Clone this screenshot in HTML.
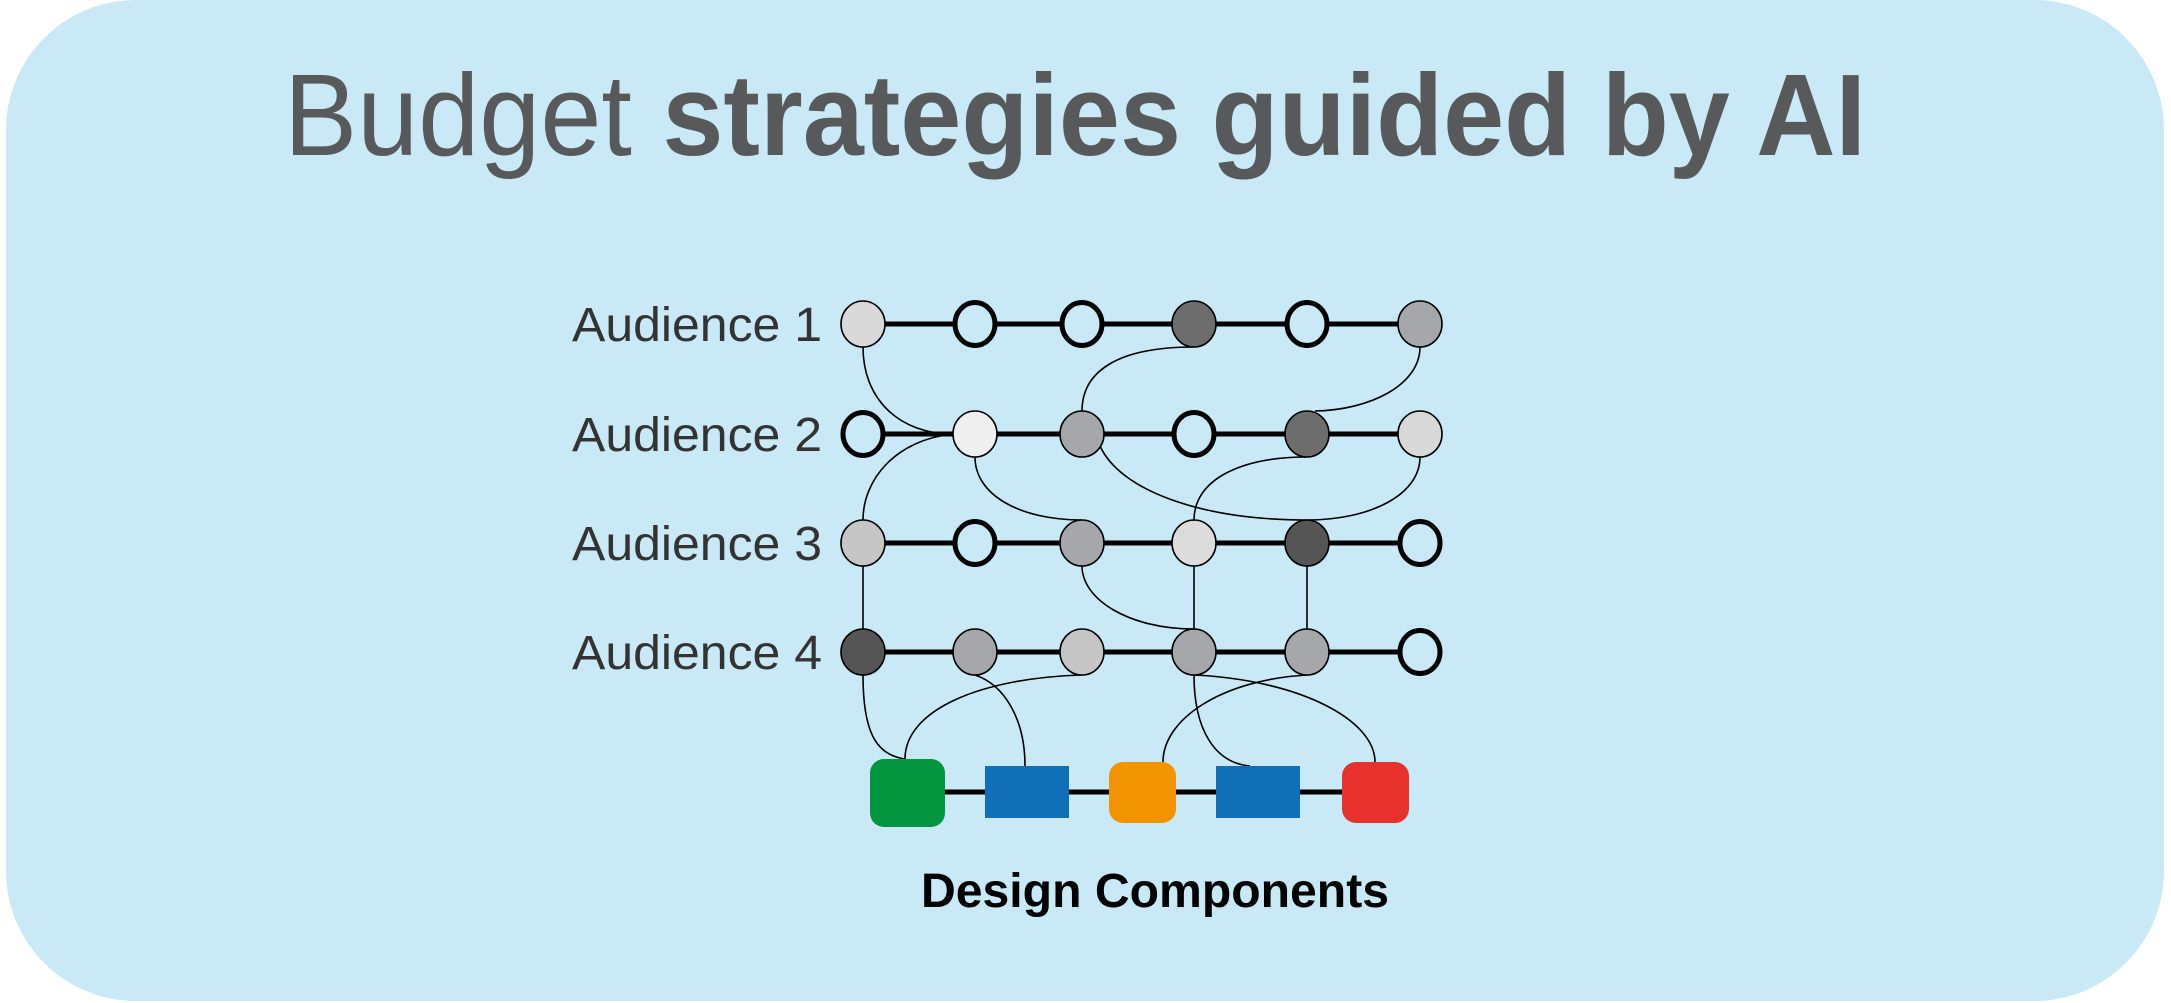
<!DOCTYPE html>
<html><head><meta charset="utf-8"><style>
html,body{margin:0;padding:0;background:#fff;}
svg{display:block;}
</style></head><body>
<svg width="2171" height="1003" viewBox="0 0 2171 1003" xmlns="http://www.w3.org/2000/svg">
<rect x="6" y="0" width="2158" height="1001" rx="130" ry="130" fill="#cae9f6"/>
<text x="284" y="155" font-family="Liberation Sans, sans-serif" font-size="116" fill="#58595b" textLength="1582" lengthAdjust="spacingAndGlyphs"><tspan font-weight="300">Budget </tspan><tspan font-weight="bold">strategies guided by AI</tspan></text>

<g font-family="Liberation Sans, sans-serif" font-size="48" fill="#333" font-weight="300">
<text x="572" y="341" textLength="250" lengthAdjust="spacingAndGlyphs">Audience 1</text>
<text x="572" y="451" textLength="250" lengthAdjust="spacingAndGlyphs">Audience 2</text>
<text x="572" y="560" textLength="250" lengthAdjust="spacingAndGlyphs">Audience 3</text>
<text x="572" y="669" textLength="250" lengthAdjust="spacingAndGlyphs">Audience 4</text>
</g>

<g stroke="#000" stroke-width="5">
<line x1="863" y1="324" x2="1420" y2="324"/>
<line x1="863" y1="434" x2="1420" y2="434"/>
<line x1="863" y1="543" x2="1420" y2="543"/>
<line x1="863" y1="652" x2="1420" y2="652"/>
<line x1="945" y1="792" x2="1342" y2="792"/>
</g>

<g fill="none" stroke="#000" stroke-width="1.6">
<path d="M863,347 C863,400 900,434 953,434"/>
<path d="M1194,347 C1120,347 1082,370 1082,411"/>
<path d="M1420,347 C1420,385 1370,410 1315,411"/>
<path d="M953,434 C895,440 863,480 863,520"/>
<path d="M975,457 C975,495 1020,520 1082,520"/>
<path d="M1100,446 C1120,490 1200,520 1307,520"/>
<path d="M1307,457 C1240,457 1194,480 1194,520"/>
<path d="M1420,457 C1420,495 1370,520 1307,520"/>
<line x1="863" y1="566" x2="863" y2="629"/>
<path d="M1082,566 C1082,600 1130,629 1194,629"/>
<line x1="1194" y1="566" x2="1194" y2="629"/>
<line x1="1307" y1="566" x2="1307" y2="629"/>
<path d="M863,675 C863,730 875,755 905,759"/>
<path d="M1082,675 C980,678 905,710 905,759"/>
<path d="M975,675 C1005,685 1025,720 1025,766"/>
<path d="M1307,675 C1220,680 1163,720 1163,762"/>
<path d="M1194,675 C1194,730 1215,763 1250,766"/>
<path d="M1194,675 C1300,680 1375,720 1375,762"/>
</g>

<g stroke="#000" stroke-width="1.6">
<ellipse cx="863" cy="324" rx="22" ry="23" fill="#d9d9d9"/>
<ellipse cx="975" cy="324" rx="20" ry="21.5" fill="#cae9f6" stroke-width="5"/>
<ellipse cx="1082" cy="324" rx="20" ry="21.5" fill="#cae9f6" stroke-width="5"/>
<ellipse cx="1194" cy="324" rx="22" ry="23" fill="#6d6d6d"/>
<ellipse cx="1307" cy="324" rx="20" ry="21.5" fill="#cae9f6" stroke-width="5"/>
<ellipse cx="1420" cy="324" rx="22" ry="23" fill="#a5a7aa"/>

<ellipse cx="863" cy="434" rx="20" ry="21.5" fill="#cae9f6" stroke-width="5"/>
<ellipse cx="975" cy="434" rx="22" ry="23" fill="#efefef"/>
<ellipse cx="1082" cy="434" rx="22" ry="23" fill="#a5a7aa"/>
<ellipse cx="1194" cy="434" rx="20" ry="21.5" fill="#cae9f6" stroke-width="5"/>
<ellipse cx="1307" cy="434" rx="22" ry="23" fill="#6d6d6d"/>
<ellipse cx="1420" cy="434" rx="22" ry="23" fill="#d9d9d9"/>

<ellipse cx="863" cy="543" rx="22" ry="23" fill="#c6c6c6"/>
<ellipse cx="975" cy="543" rx="20" ry="21.5" fill="#cae9f6" stroke-width="5"/>
<ellipse cx="1082" cy="543" rx="22" ry="23" fill="#a5a7aa"/>
<ellipse cx="1194" cy="543" rx="22" ry="23" fill="#dcdcdc"/>
<ellipse cx="1307" cy="543" rx="22" ry="23" fill="#555"/>
<ellipse cx="1420" cy="543" rx="20" ry="21.5" fill="#cae9f6" stroke-width="5"/>

<ellipse cx="863" cy="652" rx="22" ry="23" fill="#555"/>
<ellipse cx="975" cy="652" rx="22" ry="23" fill="#a5a7aa"/>
<ellipse cx="1082" cy="652" rx="22" ry="23" fill="#c6c6c6"/>
<ellipse cx="1194" cy="652" rx="22" ry="23" fill="#a5a7aa"/>
<ellipse cx="1307" cy="652" rx="22" ry="23" fill="#a5a7aa"/>
<ellipse cx="1420" cy="652" rx="20" ry="21.5" fill="#cae9f6" stroke-width="5"/>
</g>

<rect x="870" y="759" width="75" height="68" rx="14" fill="#03963e"/>
<rect x="985" y="766" width="84" height="52" fill="#106fb6"/>
<rect x="1109" y="762" width="67" height="61" rx="14" fill="#f29300"/>
<rect x="1216" y="766" width="84" height="52" fill="#106fb6"/>
<rect x="1342" y="762" width="67" height="61" rx="14" fill="#e6312c"/>

<text x="921" y="907" font-family="Liberation Sans, sans-serif" font-size="48" font-weight="bold" fill="#000" textLength="468" lengthAdjust="spacingAndGlyphs">Design Components</text>
</svg>
</body></html>
